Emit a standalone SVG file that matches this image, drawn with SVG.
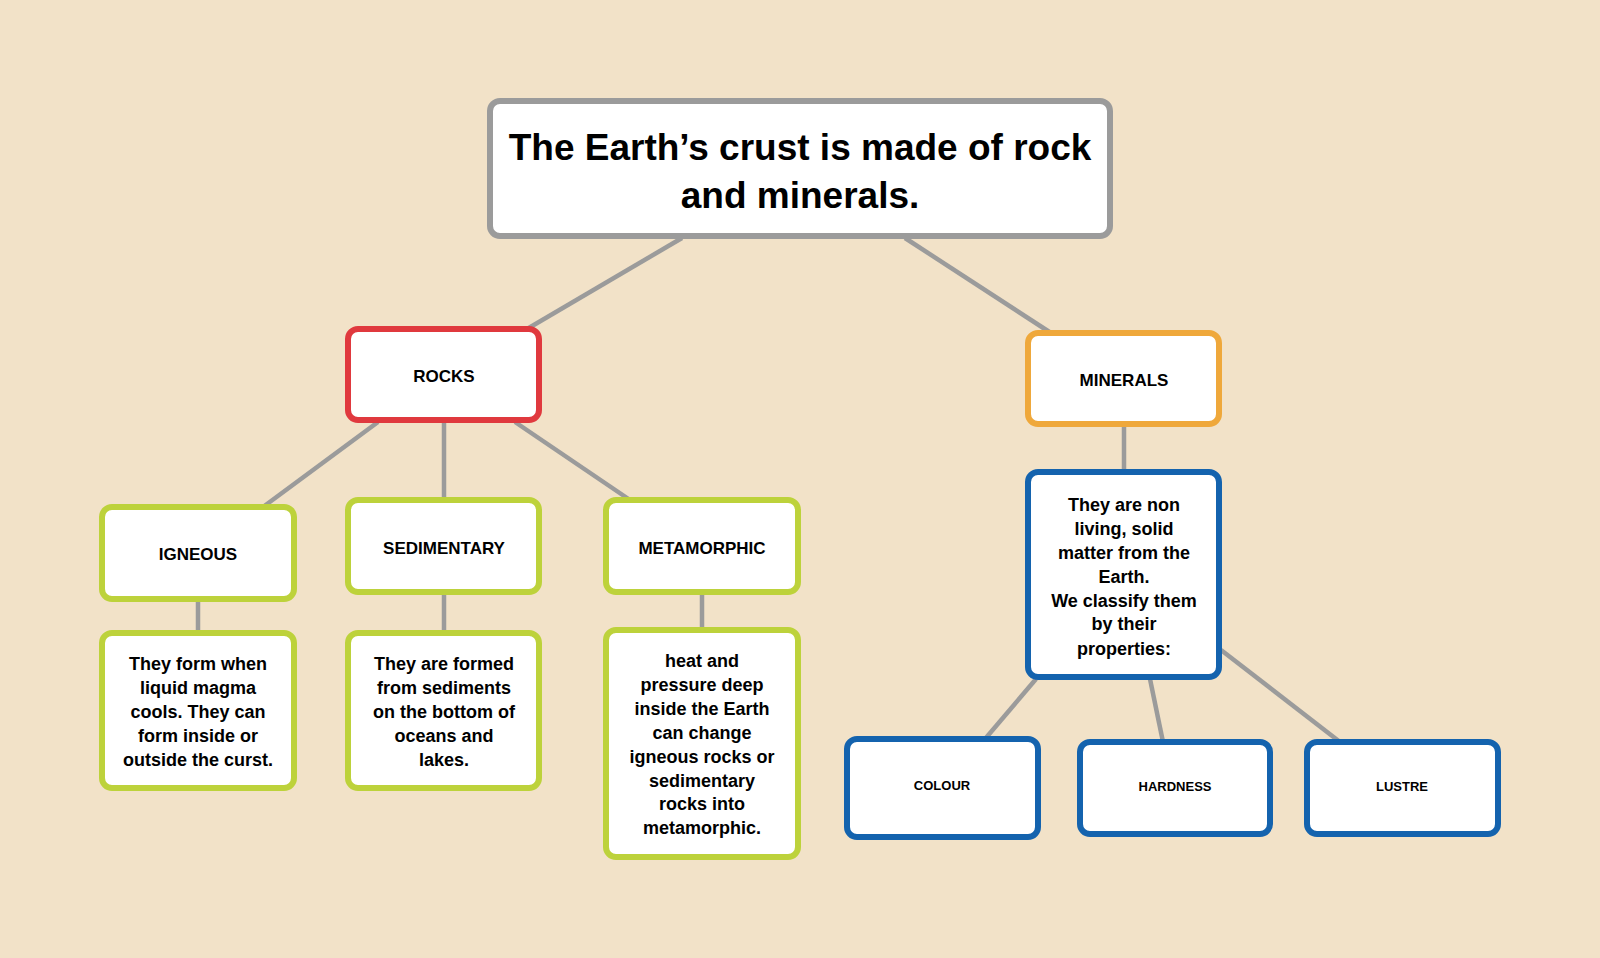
<svg xmlns="http://www.w3.org/2000/svg" width="1600" height="958" viewBox="0 0 1600 958">
<style>
.bg{fill:#f2e2c8}
.box{fill:#ffffff;stroke-width:6}
.gray{stroke:#9b9b9b}
.red{stroke:#e0393e}
.orange{stroke:#efa83b}
.green{stroke:#bdd23b}
.blue{stroke:#1463ae}
.conn line{stroke:#9b9b9b;stroke-width:4.5;fill:none}
text{font-family:"Liberation Sans",Arial,sans-serif;font-weight:bold;fill:#000;text-anchor:middle}
.title{font-size:37px}
.lbl{font-size:17px}
.sm{font-size:13px}
.desc{font-size:18px}
</style>
<rect class="bg" x="0" y="0" width="1600" height="958"/>
<g id="connectors" class="conn">
<line x1="682" y1="238" x2="527" y2="329"/>
<line x1="905" y1="238" x2="1051" y2="333"/>
<line x1="378" y1="422" x2="263" y2="507"/>
<line x1="444" y1="422" x2="444" y2="500"/>
<line x1="515" y1="422" x2="630" y2="500"/>
<line x1="198" y1="601" x2="198" y2="633"/>
<line x1="444" y1="594" x2="444" y2="633"/>
<line x1="702" y1="594" x2="702" y2="630"/>
<line x1="1124" y1="426" x2="1124" y2="472"/>
<line x1="1036" y1="679" x2="985" y2="739"/>
<line x1="1150" y1="679" x2="1163" y2="742"/>
<line x1="1221" y1="650" x2="1340" y2="742"/>
</g>
<g id="title">
<rect class="box gray" x="490" y="101" width="620" height="135" rx="10"/>
<text class="title" x="800" y="160">The Earth’s crust is made of rock</text>
<text class="title" x="800" y="208">and minerals.</text>
</g>
<g id="rocks">
<rect class="box red" x="348" y="329" width="191" height="91" rx="10"/>
<text class="lbl" x="444" y="382">ROCKS</text>
</g>
<g id="minerals">
<rect class="box orange" x="1028" y="333" width="191" height="91" rx="10"/>
<text class="lbl" x="1124" y="386">MINERALS</text>
</g>
<g id="igneous">
<rect class="box green" x="102" y="507" width="192" height="92" rx="10"/>
<text class="lbl" x="198" y="560">IGNEOUS</text>
</g>
<g id="sedimentary">
<rect class="box green" x="348" y="500" width="191" height="92" rx="10"/>
<text class="lbl" x="444" y="554">SEDIMENTARY</text>
</g>
<g id="metamorphic">
<rect class="box green" x="606" y="500" width="192" height="92" rx="10"/>
<text class="lbl" x="702" y="554">METAMORPHIC</text>
</g>
<g id="igneous-desc">
<rect class="box green" x="102" y="633" width="192" height="155" rx="10"/>
<text class="desc" x="198" y="670">They form when</text>
<text class="desc" x="198" y="694">liquid magma</text>
<text class="desc" x="198" y="718">cools. They can</text>
<text class="desc" x="198" y="742">form inside or</text>
<text class="desc" x="198" y="766">outside the curst.</text>
</g>
<g id="sedimentary-desc">
<rect class="box green" x="348" y="633" width="191" height="155" rx="10"/>
<text class="desc" x="444" y="670">They are formed</text>
<text class="desc" x="444" y="694">from sediments</text>
<text class="desc" x="444" y="718">on the bottom of</text>
<text class="desc" x="444" y="742">oceans and</text>
<text class="desc" x="444" y="766">lakes.</text>
</g>
<g id="metamorphic-desc">
<rect class="box green" x="606" y="630" width="192" height="227" rx="10"/>
<text class="desc" x="702" y="667">heat and</text>
<text class="desc" x="702" y="691">pressure deep</text>
<text class="desc" x="702" y="715">inside the Earth</text>
<text class="desc" x="702" y="739">can change</text>
<text class="desc" x="702" y="763">igneous rocks or</text>
<text class="desc" x="702" y="787">sedimentary</text>
<text class="desc" x="702" y="810">rocks into</text>
<text class="desc" x="702" y="834">metamorphic.</text>
</g>
<g id="minerals-desc">
<rect class="box blue" x="1028" y="472" width="191" height="205" rx="10"/>
<text class="desc" x="1124" y="511">They are non</text>
<text class="desc" x="1124" y="535">living, solid</text>
<text class="desc" x="1124" y="559">matter from the</text>
<text class="desc" x="1124" y="583">Earth.</text>
<text class="desc" x="1124" y="607">We classify them</text>
<text class="desc" x="1124" y="630">by their</text>
<text class="desc" x="1124" y="655">properties:</text>
</g>
<g id="colour">
<rect class="box blue" x="847" y="739" width="191" height="98" rx="10"/>
<text class="sm" x="942" y="790">COLOUR</text>
</g>
<g id="hardness">
<rect class="box blue" x="1080" y="742" width="190" height="92" rx="10"/>
<text class="sm" x="1175" y="791">HARDNESS</text>
</g>
<g id="lustre">
<rect class="box blue" x="1307" y="742" width="191" height="92" rx="10"/>
<text class="sm" x="1402" y="791">LUSTRE</text>
</g>
</svg>
